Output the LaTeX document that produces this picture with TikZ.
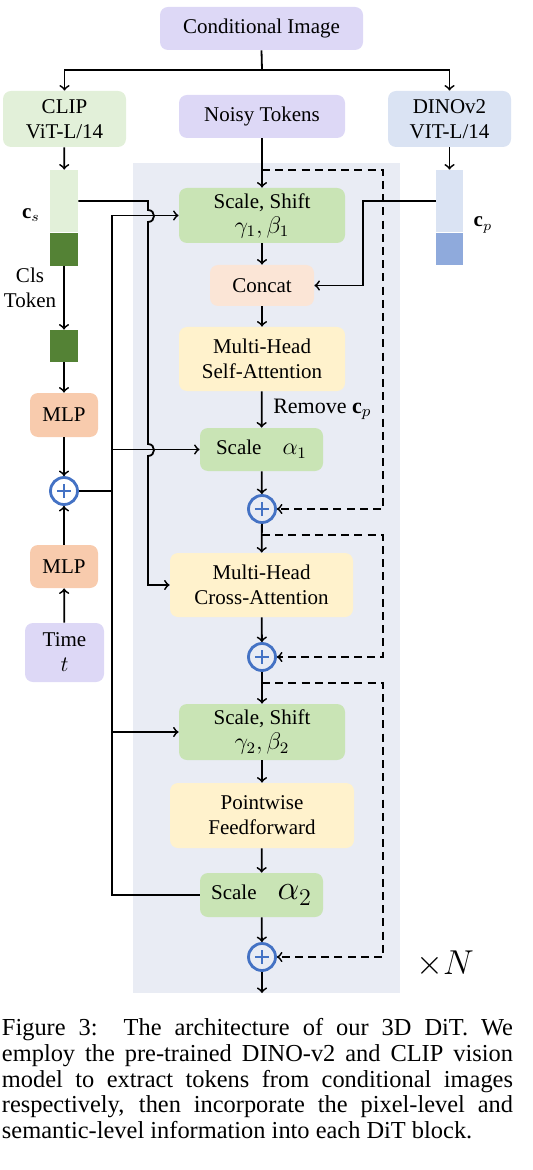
\documentclass[tikz,border=0pt]{standalone}
\usepackage{fontspec}
\setmainfont{Liberation Serif}
\usetikzlibrary{arrows}

\definecolor{lavender}{HTML}{DDD8F6}
\definecolor{clipgreen}{HTML}{E2F0D9}
\definecolor{darkgreen}{HTML}{548235}
\definecolor{dinoblue}{HTML}{DAE3F3}
\definecolor{midblue}{HTML}{8FAADC}
\definecolor{mlporange}{HTML}{F8CBAD}
\definecolor{modgreen}{HTML}{C9E4B5}
\definecolor{peach}{HTML}{FBE5D6}
\definecolor{attnyellow}{HTML}{FFF2CC}
\definecolor{blockgray}{HTML}{E9ECF4}
\definecolor{addblue}{HTML}{4472C4}

\begin{document}
\begin{tikzpicture}[x=0.5pt,y=-0.5pt,
            every node/.style={align=center,font=\fontsize{10.5}{12.5}\selectfont},
            box/.style={rounded corners=4pt,inner sep=1pt},
            input/.style={box,fill=lavender},
            encoder/.style={box,fill=#1},
            mlp/.style={box,fill=mlporange,minimum width=34pt},
            modulate/.style={box,fill=modgreen},
            attn/.style={box,fill=attnyellow},
            bar/.style={rectangle,inner sep=0pt,fill=#1},
            adder/.style={circle,draw=addblue,line width=1.4pt,minimum size=13.5pt,inner sep=0pt,
                path picture={\draw[addblue,line width=1.3pt]
                    ([xshift=-3.6pt]path picture bounding box.center) -- ([xshift=3.6pt]path picture bounding box.center)
                    ([yshift=-3.6pt]path picture bounding box.center) -- ([yshift=3.6pt]path picture bounding box.center);}},
            flow/.style={->,>=to,line width=0.9pt},
            residual/.style={->,>=to,line width=0.9pt,dash pattern=on 4pt off 2.6pt}]

            \useasboundingbox (0,0) rectangle (533,1170);
            \fill[blockgray] (133,163) rectangle (400,993);

            % inputs and encoders
            \node[input,minimum width=101.5pt,minimum height=21.5pt] (img) at (261.5,28.5) {Conditional Image};
            \node[encoder=clipgreen,minimum width=61.5pt,minimum height=28pt] (clip) at (64.5,119) {CLIP\\ViT-L/14};
            \node[input,minimum width=83pt,minimum height=21.5pt] (noisy) at (262,116.5) {Noisy Tokens};
            \node[encoder=dinoblue,minimum width=61.5pt,minimum height=28pt] (dino) at (449.5,119) {DINOv2\\VIT-L/14};

            % token bars
            \node[bar=clipgreen,minimum width=14pt,minimum height=31pt] (cstop) at (64,201) {};
            \node[bar=darkgreen,minimum width=14pt,minimum height=16.5pt,anchor=north] (csbot) at (cstop.south) {};
            \node[bar=dinoblue,minimum width=13.5pt,minimum height=31pt] (cptop) at (449.5,201) {};
            \node[bar=midblue,minimum width=13.5pt,minimum height=16pt,anchor=north] (cpbot) at (cptop.south) {};
            \node (cslabel) at (31,215) {$\mathbf{c}_s$};
            \node (cplabel) at (483,225) {$\mathbf{c}_p$};
            \node (clslabel) at (30,288) {Cls\\Token};
            \node[bar=darkgreen,minimum width=14pt,minimum height=16pt] (cls) at (64,346) {};

            % timestep branch
            \node[mlp,minimum height=22pt] (mlpa) at (64,415) {MLP};
            \node[adder] (plust) at (64,491) {};
            \node[mlp,minimum height=21.5pt] (mlpb) at (64,566.5) {MLP};
            \node[input,minimum width=39.5pt,minimum height=29.5pt] (time) at (64.5,652.5) {Time\\$t$};

            % DiT block
            \node[modulate,minimum width=83pt,minimum height=27.5pt] (ss1) at (262,215.5) {Scale, Shift\\{\large$\gamma_1,\beta_1$}};
            \node[box,fill=peach,minimum width=52pt,minimum height=20.5pt] (concat) at (262,285.5) {Concat};
            \node[attn,minimum width=83pt,minimum height=32pt] (mhsa) at (262,359) {Multi-Head\\Self-Attention};
            \node[modulate,minimum width=61.5pt,minimum height=21.5pt] (sa1) at (261.5,449.5) {Scale\quad{\large$\alpha_1$}};
            \node[adder] (plus1) at (262,509) {};
            \node[attn,minimum width=91.5pt,minimum height=32pt] (mhca) at (261.5,585) {Multi-Head\\Cross-Attention};
            \node[adder] (plus2) at (262,657) {};
            \node[modulate,minimum width=83pt,minimum height=28pt] (ss2) at (262,732) {Scale, Shift\\{\large$\gamma_2,\beta_2$}};
            \node[attn,minimum width=92pt,minimum height=32.5pt] (pf) at (262,815.5) {Pointwise\\Feedforward};
            \node[modulate,minimum width=61.5pt,minimum height=22pt] (sa2) at (261.5,895) {Scale\quad{\LARGE$\alpha_2$}};
            \node[adder] (plus3) at (262,957) {};
            \coordinate (out) at (262,993);
            \node[font=\fontsize{17}{20}\selectfont] (times) at (445,964) {$\times N$};

            \coordinate (split) at (262,70);
            \coordinate (tbus) at (112,0);
            \coordinate (rbus) at (383,0);
            \coordinate (r1) at (262,170);
            \coordinate (r2) at (262,535);
            \coordinate (r3) at (262,683);

            % image to encoders
            \draw[line width=0.9pt] (img.south) -- (split);
            \draw[flow] (split) -| (clip.north);
            \draw[flow] (split) -| (dino.north);
            \draw[flow] (clip) -- (cstop);
            \draw[flow] (dino) -- (cptop);
            \draw[flow] (csbot) -- (cls);
            \draw[flow] (cls) -- (mlpa);
            \draw[flow] (mlpa) -- (plust);
            \draw[flow] (mlpb) -- (plust);
            \draw[flow] (time) -- (mlpb);

            % main stream
            \draw[flow] (noisy) -- (ss1);
            \draw[flow] (ss1) -- (concat);
            \draw[flow] (concat) -- (mhsa);
            \draw[flow] (mhsa) -- node[right,xshift=2pt,font=\fontsize{11}{13}\selectfont] {Remove $\mathbf{c}_p$} (sa1);
            \draw[flow] (sa1) -- (plus1);
            \draw[flow] (plus1) -- (mhca);
            \draw[flow] (mhca) -- (plus2);
            \draw[flow] (plus2) -- (ss2);
            \draw[flow] (ss2) -- (pf);
            \draw[flow] (pf) -- (sa2);
            \draw[flow] (sa2) -- (plus3);
            \draw[flow] (plus3) -- (out);

            % residual connections
            \draw[residual] (r1) -| (rbus |- plus1) -- (plus1);
            \draw[residual] (r2) -| (rbus |- plus2) -- (plus2);
            \draw[residual] (r3) -| (rbus |- plus3) -- (plus3);

            % conditioning
            \draw[line width=0.9pt] (plust) -- (tbus |- plust);
            \draw[flow] (sa2.west) -| (tbus |- ss1.west) -- (ss1.west);
            \draw[flow] (tbus |- sa1.west) -- (sa1.west);
            \draw[flow] (tbus |- ss2.west) -- (ss2.west);
            \draw[flow] (cstop.east) -- (148,201) -- (148,210) .. controls (156,210) and (156,222) .. (148,222)
                -- (148,444) .. controls (156,444) and (156,456) .. (148,456) -- (148,585) -- (mhca.west);
            \draw[flow] (cptop.west) -- (363,201) |- (concat.east);

            \node[anchor=north,text width=255.5pt,align=justify,inner sep=0pt,font=\fontsize{12.2}{12.9}\selectfont] (caption) at (257.5,1018)
                {Figure 3:\ \ The architecture of our 3D DiT. We\linebreak employ the pre-trained DINO-v2 and CLIP vision\linebreak model to extract tokens from conditional images\linebreak respectively, then incorporate the pixel-level and\linebreak semantic-level information into each DiT block.};
        \end{tikzpicture}
\end{document}
